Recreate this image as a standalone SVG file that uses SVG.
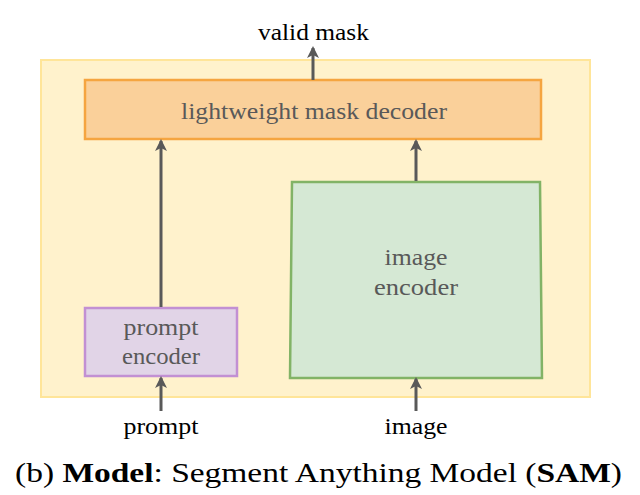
<svg xmlns="http://www.w3.org/2000/svg" width="640" height="495" viewBox="0 0 640 495">
<style>
.lbl{font-family:"Liberation Serif","Times New Roman",serif;fill:#595959;font-size:24px;text-anchor:middle}
.ext{font-family:"Liberation Serif","Times New Roman",serif;fill:#000;font-size:23px;text-anchor:middle}
.cap{font-family:"Liberation Serif","Times New Roman",serif;fill:#000;font-size:28px;text-anchor:middle}
.edge{stroke:#595959;stroke-width:3;fill:none;marker-end:url(#arr)}
</style>
<defs>
<marker id="arr" viewBox="0 0 12 12" refX="10" refY="6" markerWidth="4" markerHeight="4" orient="auto" markerUnits="strokeWidth">
<path d="M0,0 L12,6 L0,12 L3,6 Z" fill="#595959"/>
</marker>
</defs>
<rect width="640" height="495" fill="#fff"/>
<g id="sam">
<rect x="41" y="60" width="549" height="337" fill="#fff2cc" stroke="#ffe599" stroke-width="2"/>
</g>
<g id="decoder">
<rect x="85" y="80" width="456" height="59" fill="#fad09a" stroke="#f5a540" stroke-width="2.5"/>
<text class="lbl" x="314" y="119" textLength="266" lengthAdjust="spacingAndGlyphs">lightweight mask decoder</text>
</g>
<g id="prompt-encoder">
<rect x="85" y="308" width="152" height="68" fill="#e1d4e7" stroke="#c290d3" stroke-width="2.5"/>
<text class="lbl" x="161" y="335" textLength="75" lengthAdjust="spacingAndGlyphs">prompt</text>
<text class="lbl" x="161" y="364" textLength="78" lengthAdjust="spacingAndGlyphs">encoder</text>
</g>
<g id="image-encoder">
<polygon points="292,182 540,182 542,378 290,378" fill="#d5e8d4" stroke="#82b366" stroke-width="2.5"/>
<text class="lbl" x="416" y="265" textLength="63" lengthAdjust="spacingAndGlyphs">image</text>
<text class="lbl" x="416" y="295" textLength="84" lengthAdjust="spacingAndGlyphs">encoder</text>
</g>
<g id="connectors">
<line class="edge" x1="313" y1="80" x2="313" y2="48"/>
<line class="edge" x1="161" y1="307" x2="161" y2="141"/>
<line class="edge" x1="416" y1="181" x2="416" y2="141"/>
<line class="edge" x1="161" y1="411" x2="161" y2="378"/>
<line class="edge" x1="416" y1="411" x2="416" y2="379"/>
</g>
<g id="labels">
<text class="ext" x="313.5" y="40" textLength="111" lengthAdjust="spacingAndGlyphs">valid mask</text>
<text class="ext" x="161" y="434" textLength="75" lengthAdjust="spacingAndGlyphs">prompt</text>
<text class="ext" x="416" y="434" textLength="63" lengthAdjust="spacingAndGlyphs">image</text>
<text class="cap" x="318.5" y="482" textLength="607" lengthAdjust="spacingAndGlyphs">(b) <tspan font-weight="bold">Model</tspan>: Segment Anything Model (<tspan font-weight="bold">SAM</tspan>)</text>
</g>
</svg>
